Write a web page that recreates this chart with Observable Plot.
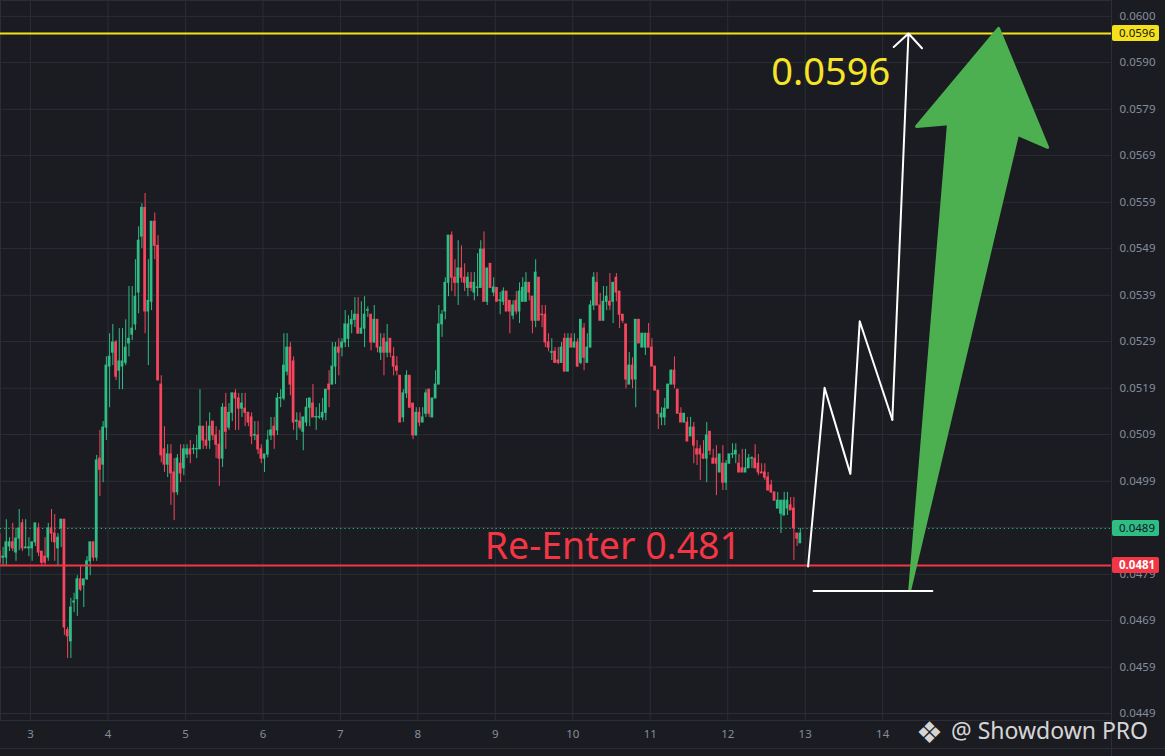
<!DOCTYPE html>
<html><head><meta charset="utf-8">
<script src="https://cdn.jsdelivr.net/npm/d3@7"></script>
<script src="https://cdn.jsdelivr.net/npm/@observablehq/plot@0.6"></script>
<style>
html,body{margin:0;padding:0;background:#1b1c21;}
#chart{width:1165px;height:756px;overflow:hidden;}
</style></head><body><div id="chart"></div>
<script>
// hourly candles; hour 0 = day 3 00:00
const startHour = -9.5;
const open = [
.04840,.04827,.04827,.04851,.04860,.04838,.04868,.04901,.04847,.04847,
.04847,.04860,.04890,.04840,.04829,.04827,.04890,.04879,.04847,.04890,
.04909,.04670,.04646,.04730,.04737,.04780,.04767,.04780,.04819,.04860,
.04827,.05041,.05028,.05108,.05240,.05270,.05292,.05231,.05240,.05248,
.05290,.05309,.05331,.05400,.05521,.05583,.05359,.05380,.05553,.05501,
.05201,.05061,.05028,.05050,.05011,.04968,.05030,.05020,.05050,.05061,
.05061,.05061,.05061,.05110,.05080,.05080,.05121,.05091,.05071,.05041,
.05151,.05108,.05140,.05182,.05171,.05149,.05149,.05140,.05130,.05091,
.05091,.05061,.05041,.05050,.05091,.05110,.05102,.05171,.05171,.05229,
.05281,.05251,.05121,.05121,.05099,.05119,.05151,.05160,.05130,.05130,
.05130,.05140,.05201,.05201,.05240,.05281,.05281,.05292,.05300,.05331,
.05341,.05352,.05311,.05322,.05361,.05352,.05292,.05341,.05270,.05300,
.05270,.05300,.05261,.05240,.05220,.05130,.05182,.05220,.05160,.05091,
.05140,.05119,.05138,.05190,.05130,.05171,.05201,.05331,.05359,.05421,
.05523,.05432,.05421,.05452,.05432,.05410,.05421,.05400,.05410,.05410,
.05493,.05380,.05462,.05400,.05410,.05382,.05380,.05402,.05382,.05350,
.05382,.05359,.05380,.05380,.05421,.05391,.05339,.05432,.05352,.05352,
.05292,.05270,.05272,.05253,.05248,.05300,.05229,.05300,.05281,.05292,
.05248,.05322,.05248,.05281,.05372,.05421,.05372,.05339,.05380,.05380,
.05380,.05432,.05402,.05352,.05331,.05201,.05242,.05212,.05341,.05281,
.05281,.05311,.05281,.05240,.05188,.05130,.05130,.05149,.05201,.05231,
.05190,.05138,.05119,.05119,.05089,.05108,.05061,.05061,.05050,.05041,
.05099,.05041,.05041,.05011,.05030,.04989,.05030,.05050,.05050,.05030,
.05020,.05011,.05020,.05041,.05041,.05030,.05011,.05011,.05000,.04983,
.04968,.04933,.04922,.04918,.04933,.04940,.04933,.04879,.04858];
const close = [
.04816,.04829,.04860,.04860,.04847,.04868,.04890,.04847,.04849,.04849,
.04860,.04901,.04838,.04816,.04816,.04890,.04879,.04860,.04870,.04909,
.04676,.04657,.04719,.04732,.04780,.04758,.04780,.04819,.04860,.04827,
.05037,.05017,.05108,.05242,.05261,.05292,.05218,.05251,.05251,.05281,
.05300,.05322,.05391,.05512,.05583,.05359,.05382,.05553,.05501,.05210,
.05048,.05028,.05050,.05009,.04968,.05041,.05009,.05061,.05061,.05050,
.05062,.05062,.05110,.05080,.05069,.05110,.05091,.05071,.05041,.05151,
.05099,.05140,.05182,.05171,.05149,.05160,.05140,.05119,.05089,.05092,
.05061,.05041,.05050,.05080,.05102,.05091,.05171,.05172,.05242,.05281,
.05201,.05119,.05123,.05108,.05130,.05151,.05171,.05130,.05131,.05131,
.05140,.05190,.05190,.05240,.05281,.05270,.05292,.05331,.05331,.05341,
.05352,.05311,.05322,.05352,.05362,.05292,.05341,.05281,.05281,.05270,
.05292,.05270,.05240,.05231,.05119,.05182,.05220,.05151,.05091,.05140,
.05119,.05130,.05182,.05138,.05171,.05201,.05331,.05352,.05421,.05523,
.05432,.05421,.05452,.05432,.05421,.05432,.05410,.05421,.05411,.05493,
.05380,.05452,.05410,.05411,.05380,.05383,.05402,.05359,.05359,.05372,
.05359,.05402,.05410,.05421,.05400,.05339,.05443,.05339,.05351,.05292,
.05281,.05271,.05248,.05248,.05281,.05229,.05300,.05281,.05292,.05240,
.05341,.05259,.05281,.05372,.05432,.05372,.05339,.05380,.05391,.05372,
.05421,.05400,.05352,.05339,.05212,.05242,.05212,.05341,.05290,.05311,
.05311,.05281,.05240,.05188,.05138,.05138,.05149,.05201,.05231,.05201,
.05138,.05119,.05138,.05078,.05108,.05069,.05050,.05050,.05041,.05091,
.05058,.05030,.05030,.05050,.04989,.05030,.05050,.05051,.05058,.05011,
.05011,.05020,.05041,.05042,.05020,.05011,.05009,.05000,.04972,.04968,
.04950,.04950,.04950,.04950,.04950,.04929,.04890,.04868,.04879];
const high = [
.04879,.04849,.04909,.04870,.04901,.04890,.04931,.04909,.04909,.04870,
.04860,.04901,.04901,.04840,.04870,.04901,.04931,.04920,.04879,.04909,
.04909,.04676,.04739,.04750,.04788,.04808,.04780,.04829,.04860,.04860,
.05048,.05102,.05121,.05261,.05311,.05331,.05296,.05322,.05322,.05341,
.05413,.05413,.05471,.05542,.05592,.05614,.05471,.05553,.05572,.05523,
.05220,.05110,.05071,.05071,.05041,.05050,.05071,.05071,.05071,.05080,
.05071,.05091,.05190,.05110,.05121,.05140,.05121,.05110,.05102,.05160,
.05182,.05160,.05182,.05190,.05182,.05182,.05182,.05140,.05140,.05121,
.05121,.05071,.05050,.05102,.05130,.05130,.05182,.05190,.05311,.05311,
.05292,.05261,.05140,.05140,.05130,.05171,.05171,.05201,.05151,.05160,
.05171,.05190,.05231,.05292,.05292,.05300,.05300,.05361,.05350,.05361,
.05389,.05389,.05380,.05391,.05369,.05352,.05372,.05341,.05311,.05311,
.05331,.05300,.05281,.05261,.05220,.05190,.05231,.05220,.05160,.05151,
.05151,.05151,.05190,.05190,.05171,.05231,.05372,.05361,.05432,.05523,
.05531,.05471,.05512,.05501,.05462,.05443,.05443,.05443,.05484,.05512,
.05531,.05452,.05462,.05432,.05410,.05400,.05410,.05402,.05382,.05382,
.05402,.05421,.05432,.05443,.05421,.05391,.05471,.05432,.05372,.05372,
.05311,.05300,.05281,.05281,.05292,.05311,.05311,.05311,.05311,.05300,
.05341,.05333,.05311,.05382,.05443,.05443,.05398,.05413,.05413,.05441,
.05421,.05441,.05402,.05352,.05331,.05270,.05259,.05341,.05341,.05311,
.05311,.05333,.05300,.05240,.05188,.05151,.05171,.05201,.05233,.05261,
.05190,.05151,.05138,.05130,.05130,.05119,.05080,.05069,.05080,.05119,
.05099,.05061,.05069,.05050,.05069,.05037,.05050,.05073,.05073,.05050,
.05061,.05061,.05050,.05045,.05071,.05050,.05030,.05030,.05011,.04994,
.04968,.04968,.04950,.04968,.04968,.04957,.04957,.04879,.04890];
const low = [
.04810,.04810,.04810,.04840,.04840,.04819,.04842,.04840,.04847,.04829,
.04819,.04851,.04829,.04810,.04810,.04819,.04860,.04819,.04810,.04849,
.04659,.04609,.04609,.04708,.04700,.04754,.04719,.04778,.04788,.04819,
.04819,.04959,.04989,.05080,.05151,.05242,.05210,.05190,.05190,.05242,
.05261,.05296,.05318,.05354,.05495,.05311,.05242,.05361,.05471,.05210,
.05032,.05011,.05000,.04940,.04907,.04961,.04989,.05004,.05041,.05030,
.05050,.05041,.05061,.05061,.05061,.05061,.05080,.05041,.04981,.05022,
.05061,.05102,.05121,.05102,.05102,.05130,.05110,.05110,.05071,.05080,
.05050,.05030,.05011,.05043,.05080,.05061,.05091,.05151,.05166,.05220,
.05177,.05102,.05080,.05102,.05058,.05110,.05110,.05130,.05102,.05126,
.05123,.05123,.05151,.05201,.05201,.05220,.05261,.05281,.05281,.05311,
.05324,.05311,.05311,.05281,.05346,.05274,.05290,.05270,.05253,.05220,
.05259,.05259,.05220,.05220,.05119,.05119,.05171,.05151,.05082,.05091,
.05110,.05119,.05130,.05130,.05130,.05171,.05201,.05303,.05341,.05391,
.05402,.05391,.05372,.05421,.05402,.05391,.05402,.05382,.05391,.05410,
.05380,.05372,.05410,.05391,.05380,.05352,.05372,.05359,.05311,.05341,
.05352,.05333,.05380,.05380,.05382,.05311,.05324,.05339,.05324,.05281,
.05272,.05253,.05248,.05244,.05248,.05229,.05229,.05281,.05281,.05238,
.05244,.05231,.05248,.05281,.05361,.05372,.05339,.05339,.05361,.05361,
.05333,.05380,.05322,.05333,.05192,.05201,.05192,.05151,.05290,.05281,
.05264,.05281,.05240,.05188,.05104,.05112,.05112,.05149,.05201,.05192,
.05138,.05119,.05119,.05078,.05089,.05030,.05026,.04994,.05039,.04989,
.05048,.05030,.04961,.05011,.04972,.04972,.05030,.05041,.05030,.05011,
.05011,.05011,.05020,.05020,.05020,.05004,.05009,.04994,.04972,.04966,
.04950,.04933,.04879,.04918,.04918,.04929,.04821,.04851,.04858];

const dayTicks = [0,24,48,72,96,120,144,168,192,216,240,264];
const dayLabels = ["3","4","5","6","7","8","9","10","11","12","13","14"];
const priceTicks = [0.05997,0.05897,0.05796,0.05696,0.05595,0.05495,0.05394,0.05294,0.05193,0.05093,0.04992,0.04892,0.04791,0.04691,0.04590,0.04490];
const priceTickLabels = ["0.0600","0.0590","0.0579","0.0569","0.0559","0.0549","0.0539","0.0529","0.0519","0.0509","0.0499","0.0489","0.0479","0.0469","0.0459","0.0449"];

const targetPrice = 0.0596, reEnterPrice = 0.0481, lastPrice = 0.0489;
const priceTags = [
  {price: targetPrice, label: "0.0596", bg: "#f5e11b", fg: "#131722", weight: 400},
  {price: lastPrice, label: "0.0489", bg: "#2ebd85", fg: "#131722", weight: 400},
  {price: reEnterPrice, label: "0.0481", bg: "#f23645", fg: "#ffffff", weight: 700}
];

// hand-drawn projection (time in hours, price)
const zigzagTime = [240.9, 246.0, 254.0, 256.9, 267.0];
const zigzagPrice = [0.04808, 0.05194, 0.05008, 0.05338, 0.05125];
const finalLegTime = [267.0, 272.0];
const finalLegPrice = [0.05125, 0.05960];
const baseTime = [242.6, 279.4];
const basePrice = [0.04755, 0.04755];
const bigArrowTime = [272.4, 284.4, 274.5, 299.9, 315.1, 305.8, 272.4];
const bigArrowPrice = [0.04757, 0.05765, 0.05759, 0.05971, 0.05714, 0.05742, 0.04757];

const notes = [
  {label: "Re-Enter 0.481", t: 140.7, price: 0.04825, color: "#f23645", size: 37.5},
  {label: "0.0596", t: 229.5, price: 0.05848, color: "#f7e426", size: 38}
];

const GREEN = "#2ebd85", RED = "#f6465d", GRID = "#2b2e36", BG = "#1b1c21", AXIS = "#848e9c";

const candles = open.map((o, i) => ({t: startHour + i, open: o, high: high[i], low: low[i], close: close[i]}));
const up = candles.filter(d => d.close >= d.open);
const down = candles.filter(d => d.close < d.open);
const zig = zigzagTime.map((t, i) => ({t, p: zigzagPrice[i]}));
const base = baseTime.map((t, i) => ({t, p: basePrice[i]}));
const bigArrow = bigArrowTime.map((t, i) => ({t, p: bigArrowPrice[i]}));
const dayMap = new Map(dayTicks.map((d, i) => [d, dayLabels[i]]));
const priceMap = new Map(priceTicks.map((d, i) => [d, priceTickLabels[i]]));

const FONT = "'Noto Sans', 'Open Sans', sans-serif";

const plot = Plot.plot({
  width: 1165, height: 756,
  marginTop: 0, marginLeft: 0, marginRight: 54, marginBottom: 36,
  style: {background: BG, color: AXIS, fontFamily: FONT, fontSize: "11.5px", overflow: "hidden"},
  x: {type: "linear", domain: [-9.3, 334.9]},
  y: {domain: [0.044749, 0.060313]},
  marks: [
    Plot.gridX(dayTicks, {stroke: GRID, strokeOpacity: 1}),
    Plot.gridY(priceTicks, {stroke: GRID, strokeOpacity: 1}),
    Plot.frame({stroke: GRID}),
    Plot.axisX(dayTicks, {anchor: "bottom", tickSize: 0, tickPadding: 9, tickFormat: d => dayMap.get(d), label: null, fill: AXIS}),
    Plot.axisY(priceTicks, {anchor: "right", tickSize: 0, tickPadding: 8, tickFormat: d => priceMap.get(d), label: null, fill: AXIS}),
    Plot.ruleY([lastPrice], {stroke: GREEN, strokeDasharray: "1.2,3", strokeWidth: 1}),
    Plot.ruleY([targetPrice], {stroke: "#f5e11b", strokeWidth: 2}),
    Plot.ruleX(up, {x: "t", y1: "low", y2: "high", stroke: GREEN, strokeWidth: 1}),
    Plot.ruleX(down, {x: "t", y1: "low", y2: "high", stroke: RED, strokeWidth: 1}),
    Plot.rect(up, {x1: d => d.t - 0.42, x2: d => d.t + 0.42, y1: "open", y2: "close", fill: GREEN, insetTop: -0.5, insetBottom: -0.5}),
    Plot.rect(down, {x1: d => d.t - 0.42, x2: d => d.t + 0.42, y1: "open", y2: "close", fill: RED, insetTop: -0.5, insetBottom: -0.5}),
    Plot.ruleY([reEnterPrice], {stroke: "#f23645", strokeWidth: 2}),
    Plot.line(bigArrow, {x: "t", y: "p", fill: "#4caf50", stroke: "#4caf50", strokeWidth: 3, strokeLinejoin: "round"}),
    Plot.line(zig, {x: "t", y: "p", stroke: "#ffffff", strokeWidth: 2}),
    Plot.arrow([{x1: finalLegTime[0], y1: finalLegPrice[0], x2: finalLegTime[1], y2: finalLegPrice[1]}],
      {x1: "x1", y1: "y1", x2: "x2", y2: "y2", stroke: "#ffffff", strokeWidth: 2, headLength: 15, headAngle: 90}),
    Plot.line(base, {x: "t", y: "p", stroke: "#ffffff", strokeWidth: 2}),
    Plot.text(notes, {x: "t", y: "price", text: "label", fill: "color", fontSize: "size", textAnchor: "start", lineAnchor: "bottom", fontFamily: FONT})
  ]
});

const svg = d3.select(plot);
const ys = plot.scale("y");
// axis separators
svg.append("line").attr("x1", 1111.5).attr("x2", 1111.5).attr("y1", 720).attr("y2", 756).attr("stroke", GRID);
svg.append("line").attr("x1", 0).attr("x2", 1165).attr("y1", 748.5).attr("y2", 748.5).attr("stroke", GRID);
// price tags
for (const tag of priceTags) {
  const y = ys.apply(tag.price);
  svg.append("rect").attr("x", 1112).attr("y", y - 8).attr("width", 47).attr("height", 16).attr("rx", 2).attr("fill", tag.bg);
  svg.append("text").attr("x", 1119).attr("y", y + 4).attr("text-anchor", "start").attr("fill", tag.fg).attr("font-size", 11.5)
    .attr("font-weight", tag.weight).attr("font-family", FONT).text(tag.label);
}
// watermark
const wm = svg.append("g").attr("fill", "#e9e9e9").attr("fill-opacity", 0.92).attr("text-anchor", "start");
wm.append("text").attr("x", 916).attr("y", 743).attr("font-size", 30).attr("font-family", "'DejaVu Sans', sans-serif").text("\u2756");
wm.append("text").attr("x", 951).attr("y", 738.5).attr("font-size", 23).attr("font-family", FONT).text("@ Showdown PRO");

document.getElementById("chart").appendChild(plot);
</script>
</body></html>
